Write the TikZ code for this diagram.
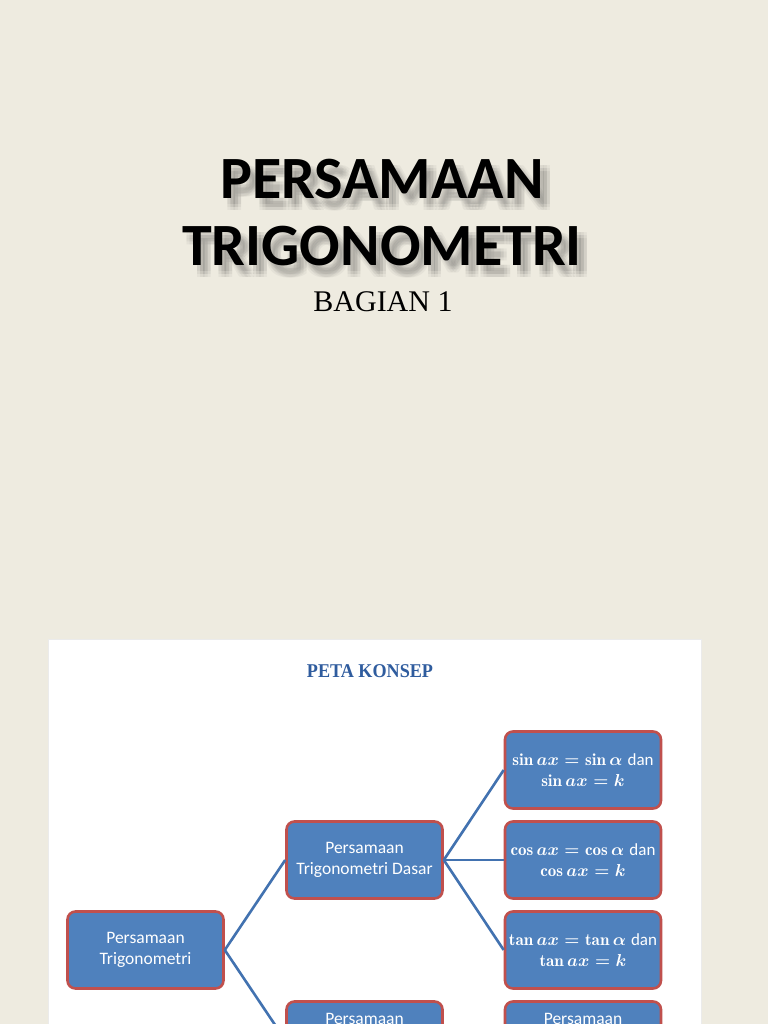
\documentclass[tikz,border=0pt]{standalone}
\usepackage{fontspec}
\newfontfamily\carlito{Carlito}
\newfontfamily\tserif{Liberation Serif}
\definecolor{bg}{HTML}{EEEBE0}
\definecolor{boxblue}{HTML}{4F81BD}
\definecolor{boxred}{HTML}{C0504D}
\definecolor{linkblue}{HTML}{4272B0}
\definecolor{headblue}{HTML}{2F5C9E}
\tikzset{
  cbox/.style={draw=boxred, line width=2.6pt, fill=boxblue, rounded corners=8pt,
    minimum width=156pt, minimum height=77pt, text=white, align=center, inner sep=0pt,
    font=\carlito\fontsize{17.5}{21}\selectfont},
  mbox/.style={cbox, font=\boldmath\fontsize{17}{21}\selectfont},
  link/.style={draw=linkblue, line width=2.6pt},
  titletext/.style={font=\carlito\bfseries\fontsize{60}{62}\selectfont, text=black, inner sep=0pt, anchor=base},
  shadowtext/.style={titletext, text=black!70, opacity=0.06},
  btext/.style={text=white, inner sep=0pt, anchor=base, font=\carlito\fontsize{17.5}{21}\selectfont}
}
\begin{document}
\begin{tikzpicture}[x=1pt,y=-1pt]
\useasboundingbox (0,0) rectangle (768,1024);
\clip (0,0) rectangle (768,1024);
\fill[bg] (0,0) rectangle (768,1024);
% title shadow
\foreach \dx in {4,7,10} {
  \foreach \dy in {6,9,12} {
    \node[shadowtext] at (382+\dx,199+\dy) {PERSAMAAN};
    \node[shadowtext] at (382+\dx,265+\dy) {TRIGONOMETRI};
  }
}
\node[titletext] (t1) at (382,199) {PERSAMAAN};
\node[titletext] (t2) at (382,265) {TRIGONOMETRI};
\node[font=\tserif\fontsize{30}{32}\selectfont, inner sep=0pt, anchor=base] (sub) at (383,311) {BAGIAN 1};
% panel
\fill[white] (48,639) rectangle (701,1030);
\draw[black!8, line width=0.6pt] (48,1030) -- (48,639) -- (701,639) -- (701,1030);
\node[font=\tserif\bfseries\fontsize{19.5}{22}\selectfont, text=headblue, inner sep=0pt, anchor=base, xscale=0.93] (head) at (370,677) {PETA KONSEP};
% boxes
\node[cbox] (root) at (145.5,950) {Persamaan\\Trigonometri};
\node[cbox] (dasar) at (364.5,860) {Persamaan\\Trigonometri Dasar};
\node[cbox] (bmid) at (364.5,1040) {};
\node[mbox] (sin) at (583,770) {$\sin ax=\sin\alpha$ {\carlito\fontsize{17}{21}\selectfont dan}\\$\sin ax=k$};
\node[mbox] (cos) at (583,860) {$\cos ax=\cos\alpha$ {\carlito\fontsize{17}{21}\selectfont dan}\\$\cos ax=k$};
\node[mbox] (tan) at (583,950) {$\tan ax=\tan\alpha$ {\carlito\fontsize{17}{21}\selectfont dan}\\$\tan ax=k$};
\node[cbox] (bright) at (583,1040) {};
\node[btext] (bmidt) at (364.5,1024) {Persamaan};
\node[btext] (brightt) at (583,1024) {Persamaan};
% connectors
\draw[link] (root.east) -- (dasar.west);
\draw[link] (root.east) -- (bmid.west);
\draw[link] (dasar.east) -- (sin.west);
\draw[link] (dasar.east) -- (cos.west);
\draw[link] (dasar.east) -- (tan.west);
\end{tikzpicture}
\end{document}
